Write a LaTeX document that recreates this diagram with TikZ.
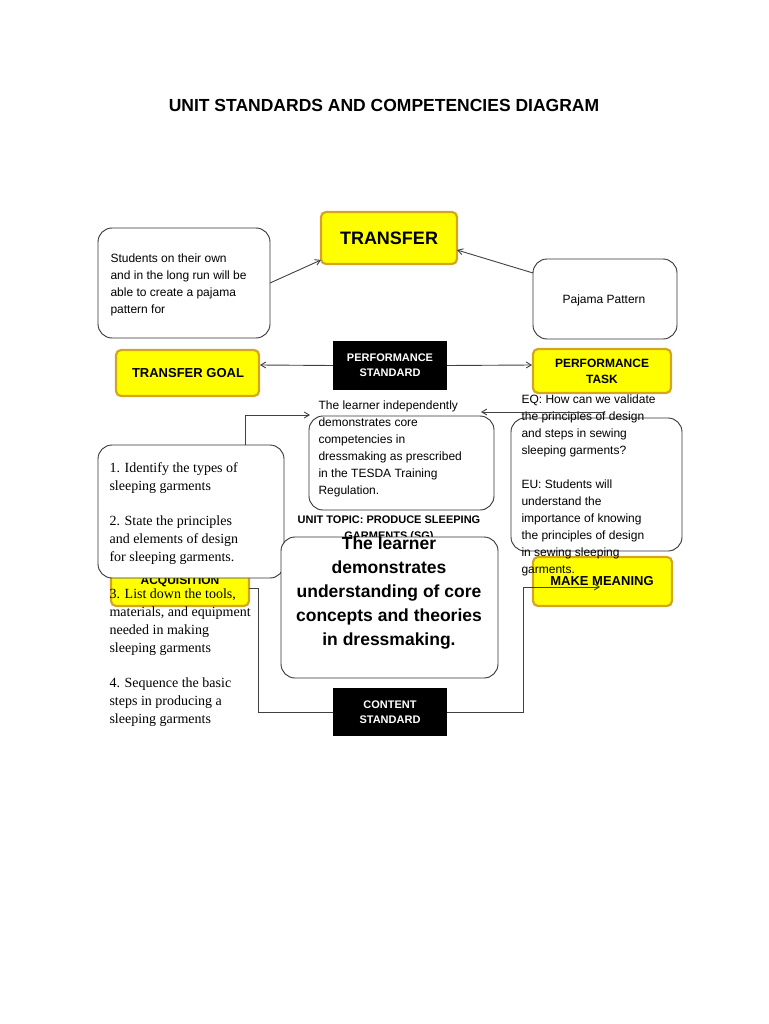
\documentclass[tikz,border=0pt]{standalone}
\usepackage{fontspec}
\setmainfont{Liberation Sans}
\newfontfamily\serifl{Liberation Serif}
\usetikzlibrary{arrows.meta}
\definecolor{ybox}{HTML}{FFFF00}
\definecolor{ybord}{HTML}{D4A520}
\begin{document}
\begin{tikzpicture}[x=1pt,y=-1pt,
  ybx/.style={draw=ybord,line width=2.2pt,fill=ybox,rounded corners=5pt},
  wbx/.style={draw=black!80,line width=0.9pt,fill=white,rounded corners=14pt},
  bbx/.style={fill=black,text=white,font=\bfseries\fontsize{11}{15}\selectfont,align=center},
  ln/.style={draw=black!75,line width=0.9pt},
  ar/.style={ln,-{Straight Barb[length=5pt,width=6pt]}}]
\useasboundingbox (0,0) rectangle (768,1024);
\node (title) at (384,105) {\bfseries\fontsize{17.5}{20}\selectfont UNIT STANDARDS AND COMPETENCIES DIAGRAM};
% transfer row
\draw[ybx] (321,212) rectangle (457,264);
\node (transfer) at (389,238) {\bfseries\fontsize{18}{20}\selectfont TRANSFER};
\coordinate (tl) at (321,260); \coordinate (tr) at (457,250);
\draw[wbx] (98,228) rectangle (270,338);
\node (stud) at (270,283) {};
\node[anchor=north west,align=left,font=\fontsize{12}{17}\selectfont] (studt) at (107,250) {Students on their own\\and in the long run will be\\able to create a pajama\\pattern  for};
\draw[wbx] (533,259) rectangle (677,339);
\node (pajama) at (604,300) {\fontsize{12}{14}\selectfont Pajama  Pattern};
\coordinate (pj) at (533,273);
\draw[ar] (270,283) -- (tl);
\draw[ar] (pj) -- (tr);
% performance row
\draw[ybx] (116,350) rectangle (259,396);
\node (tgoal) at (188,373) {\bfseries\fontsize{13}{15}\selectfont TRANSFER GOAL};
\node[bbx,minimum width=114pt,minimum height=49pt] (pstd) at (390,365.5) {PERFORMANCE\\STANDARD};
\draw[ybx] (533,349) rectangle (671,393);
\node[align=center,font=\bfseries\fontsize{12}{16}\selectfont] (ptask) at (602,371) {PERFORMANCE\\TASK};
\coordinate (tgr) at (260,365); \coordinate (ptl) at (532,365);
\draw[ar] (pstd.west) -- (tgr);
\draw[ar] (pstd.east) -- (ptl);
% middle
\draw[wbx] (309,416) rectangle (494,510);
\node[anchor=north west,align=left,font=\fontsize{12}{17}\selectfont] (ps) at (315,397) {The learner independently\\demonstrates core\\competencies in\\dressmaking as prescribed\\in the TESDA Training\\Regulation.};
\draw[wbx] (511,418) rectangle (682,551);
\draw[ybx] (533,557) rectangle (672,606);
\node (mm) at (602,581) {\bfseries\fontsize{13}{15}\selectfont MAKE MEANING};
\node[anchor=north west,align=left,font=\fontsize{12}{17}\selectfont] (eq) at (518,391) {EQ: How can we validate\\the principles of design\\and steps in sewing\\sleeping garments?\\[17pt]EU:  Students will\\understand the\\importance of knowing\\the principles of design\\in sewing sleeping\\garments.};
\coordinate (eqs) at (605,412); \coordinate (pse) at (481,412);
\draw[ar] (eqs) -- (pse);
\node (topic) at (389,520) {\bfseries\fontsize{11}{13}\selectfont UNIT TOPIC: PRODUCE SLEEPING};
\node (topic2) at (389,537) {\bfseries\fontsize{11}{13}\selectfont GARMENTS (SG)};
\draw[ybx] (111,562) rectangle (249,606);
\node (acq) at (180,581) {\bfseries\fontsize{12}{14}\selectfont ACQUISITION};
\draw[wbx] (98,445) rectangle (284,578);
\node[anchor=north west,align=left,font=\serifl\fontsize{14}{18}\selectfont] (l1) at (106,459) {1. Identify the  types of\\sleeping garments\\[17pt]2. State the principles\\and elements of design\\for sleeping garments.};
\node[anchor=north west,align=left,font=\serifl\fontsize{14}{18}\selectfont] (l3) at (106,585) {3. List down the tools,\\materials, and equipment\\needed in making\\sleeping garments\\[17pt]4. Sequence  the basic\\steps in producing a\\sleeping garments};
\coordinate (lb) at (245,445); \coordinate (lt) at (310,415);
\draw[ar] (lb) |- (lt);
\draw[wbx] (281,537) rectangle (498,678);
\node[align=center,font=\bfseries\fontsize{17.5}{24}\selectfont] (cs) at (389,593) {The learner\\demonstrates\\understanding of core\\concepts and  theories\\in dressmaking.};
\node[bbx,minimum width=114pt,minimum height=48pt] (cstd) at (390,712) {CONTENT\\STANDARD};
\coordinate (acqr) at (249,588); \coordinate (c1) at (258,712);
\draw[ln] (acqr) -- (258,588) -- (c1) -- (cstd.west);
\coordinate (mmp) at (600,587);
\draw[ar] (cstd.east) -- (523,712) -- (523,587) -- (mmp);
\end{tikzpicture}
\end{document}
